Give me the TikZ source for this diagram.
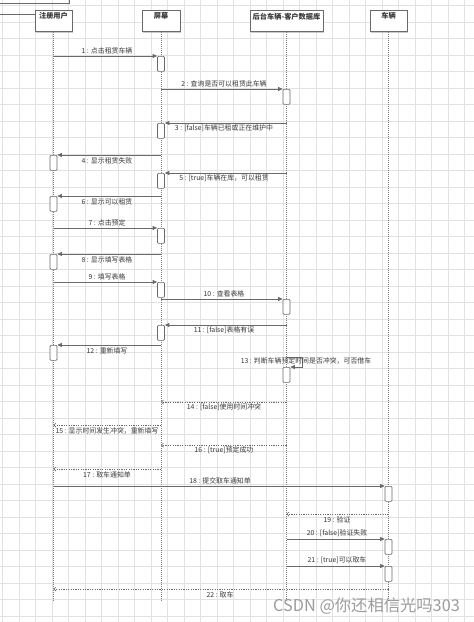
\documentclass[tikz,border=0pt]{standalone}
\usepackage{fontspec}
\setmainfont{Noto Sans CJK SC}
\usetikzlibrary{arrows.meta,shadows}
\definecolor{gridc}{HTML}{E2E2E2}
\definecolor{linec}{HTML}{6A6A6A}
\definecolor{txtc}{HTML}{383838}
\definecolor{wmc}{HTML}{9C9C9C}
\begin{document}
\begin{tikzpicture}[x=1pt,y=-1pt,
  hdr/.style={draw=linec, line width=0.9pt, fill=white, minimum height=21pt, inner sep=0pt, anchor=north,
    drop shadow={shadow xshift=1.2pt, shadow yshift=-1.2pt, fill=black!40, opacity=0.5}},
  hdrtxt/.style={font=\fontsize{7.2}{8}\selectfont\bfseries, text=txtc, inner sep=0pt, anchor=north},
  act/.style={draw=linec, line width=0.7pt, fill=white, minimum width=7pt, minimum height=15pt, inner sep=0pt, rounded corners=1pt, anchor=north},
  life/.style={draw=linec!85, line width=0.7pt, dash pattern=on 1pt off 1pt},
  msg/.style={draw=linec, line width=0.8pt, -{Triangle[length=4.5pt,width=4pt]}},
  ret/.style={draw=linec, line width=0.7pt, dash pattern=on 1.2pt off 1.2pt, -{Straight Barb[length=2pt,width=4pt]}},
  lab/.style={font=\fontsize{6.9}{8}\selectfont, text=txtc, inner sep=0.5pt}]
\useasboundingbox (0,0) rectangle (474,622);
\fill[white] (0,0) rectangle (474,622);
% grid
\foreach \k in {0,...,28} {\draw[gridc, line width=0.5pt] ({2.5+16.5*\k},0) -- ({2.5+16.5*\k},622);}
\foreach \k in {0,...,37} {\draw[gridc, line width=0.5pt] (0,{5.5+16.5*\k}) -- (474,{5.5+16.5*\k});}
% fragments at top left
\draw[linec, line width=0.8pt] (0,3.5) -- (69,3.5) -- (69,0);
% headers
\node[hdr, minimum width=37pt] (hU) at (53.5,10) {};
\node[hdr, minimum width=38pt] (hS) at (161,10) {};
\node[hdr, minimum width=73pt] (hD) at (286.5,10) {};
\node[hdr, minimum width=37pt] (hC) at (388.5,10) {};
\draw[linec, line width=0.8pt] (0,14.5) -- (hU.west |- 0,14.5);
\node[hdrtxt] (tU) at ([yshift=-2.5pt]hU.north) {注册用户};
\node[hdrtxt] (tS) at ([yshift=-2.5pt]hS.north) {屏幕};
\node[hdrtxt] (tD) at ([yshift=-2.5pt]hD.north) {后台车辆-客户数据库};
\node[hdrtxt] (tC) at ([yshift=-2.5pt]hC.north) {车辆};
% lifelines
\coordinate (eU) at (53.5,601);
\coordinate (eS) at (161,601);
\coordinate (eD) at (286.5,601);
\coordinate (eC) at (388.5,601);
\draw[life] (hU.south) -- (eU);
\draw[life] (hS.south) -- (eS);
\draw[life] (hD.south) -- (eD);
\draw[life] (hC.south) -- (eC);
% activations
\node[act] (a1) at (161,56) {};
\node[act] (a2) at (286.5,89) {};
\node[act] (a3) at (161,123) {};
\node[act] (a4) at (53.5,155) {};
\node[act] (a5) at (161,173) {};
\node[act] (a6) at (53.5,196) {};
\node[act] (a7) at (161,228) {};
\node[act] (a8) at (53.5,254) {};
\node[act] (a9) at (161,282) {};
\node[act] (a10) at (286.5,299) {};
\node[act] (a11) at (161,325) {};
\node[act] (a12) at (53.5,345) {};
\node[act] (a13) at (286.5,367) {};
\node[act] (a18) at (388.5,486) {};
\node[act] (a20) at (388.5,539) {};
\node[act] (a21) at (388.5,566) {};
% message end points
\coordinate (m1) at (53.5,56);
\coordinate (m2) at (161,89);
\coordinate (m3) at (286.5,123);
\coordinate (m4) at (161,155);
\coordinate (m5) at (286.5,173);
\coordinate (m6) at (161,196);
\coordinate (m7) at (53.5,228);
\coordinate (m8) at (161,254);
\coordinate (m9) at (53.5,282);
\coordinate (m10) at (161,299);
\coordinate (m11) at (286.5,325);
\coordinate (m12) at (161,345);
\coordinate (m13) at (286.5,357);
\coordinate (m13r) at (302,357);
\coordinate (m13b) at (302,367);
\coordinate (m14a) at (286.5,402); \coordinate (m14b) at (161,402);
\coordinate (m15a) at (161,425); \coordinate (m15b) at (53.5,425);
\coordinate (m16a) at (286.5,445); \coordinate (m16b) at (161,445);
\coordinate (m17a) at (161,469); \coordinate (m17b) at (53.5,469);
\coordinate (m18) at (53.5,486);
\coordinate (m19a) at (388.5,514); \coordinate (m19b) at (286.5,514);
\coordinate (m20) at (286.5,539);
\coordinate (m21) at (286.5,566);
\coordinate (m22a) at (388.5,589); \coordinate (m22b) at (53.5,589);
% messages
\draw[msg] (m1) -- (a1.north west);
\draw[msg] (m2) -- (a2.north west);
\draw[msg] (m3) -- (a3.north east);
\draw[msg] (m4) -- (a4.north east);
\draw[msg] (m5) -- (a5.north east);
\draw[msg] (m6) -- (a6.north east);
\draw[msg] (m7) -- (a7.north west);
\draw[msg] (m8) -- (a8.north east);
\draw[msg] (m9) -- (a9.north west);
\draw[msg] (m10) -- (a10.north west);
\draw[msg] (m11) -- (a11.north east);
\draw[msg] (m12) -- (a12.north east);
\draw[msg] (m13) -- (m13r) -- (m13b) -- (a13.north east);
\draw[ret] (m14a) -- (m14b);
\draw[ret] (m15a) -- (m15b);
\draw[ret] (m16a) -- (m16b);
\draw[ret] (m17a) -- (m17b);
\draw[msg] (m18) -- (a18.north west);
\draw[ret] (m19a) -- (m19b);
\draw[msg] (m20) -- (a20.north west);
\draw[msg] (m21) -- (a21.north west);
\draw[ret] (m22a) -- (m22b);
% labels
\node[lab] (l1) at (107,50.5) {1 : 点击租赁车辆};
\node[lab] (l2) at (224,83.5) {2 : 查询是否可以租赁此车辆};
\node[lab] (l3) at (224,128.5) {3 : [false]车辆已租或正在维护中};
\node[lab] (l4) at (107,160.5) {4 : 显示租赁失败};
\node[lab] (l5) at (224,178.5) {5 : [true]车辆在库，可以租赁};
\node[lab] (l6) at (107,201.5) {6 : 显示可以租赁};
\node[lab] (l7) at (107,222.5) {7 : 点击预定};
\node[lab] (l8) at (107,259.5) {8 : 显示填写表格};
\node[lab] (l9) at (107,276.5) {9 : 填写表格};
\node[lab] (l10) at (224,293.5) {10 : 查看表格};
\node[lab] (l11) at (224,330.5) {11 : [false]表格有误};
\node[lab] (l12) at (107,350.5) {12 : 重新填写};
\node[lab] (l13) at (306,361) {13 : 判断车辆预定时间是否冲突，可否借车};
\node[lab] (l14) at (224,407.5) {14 : [false]使用时间冲突};
\node[lab] (l15) at (107,430.5) {15 : 显示时间发生冲突，重新填写};
\node[lab] (l16) at (224,450.5) {16 : [true]预定成功};
\node[lab] (l17) at (107,474.5) {17 : 取车通知单};
\node[lab] (l18) at (220,480.5) {18 : 提交取车通知单};
\node[lab] (l19) at (337,519.5) {19 : 验证};
\node[lab] (l20) at (337,533.5) {20 : [false]验证失败};
\node[lab] (l21) at (337,560.5) {21 : [true]可以取车};
\node[lab] (l22) at (220,594.5) {22 : 取车};
% watermark
\node[anchor=west, inner sep=0pt, text=wmc, font=\fontsize{16.3}{18}\selectfont] (wm) at (273,606.5) {CSDN @你还相信光吗303};
\end{tikzpicture}
\end{document}
